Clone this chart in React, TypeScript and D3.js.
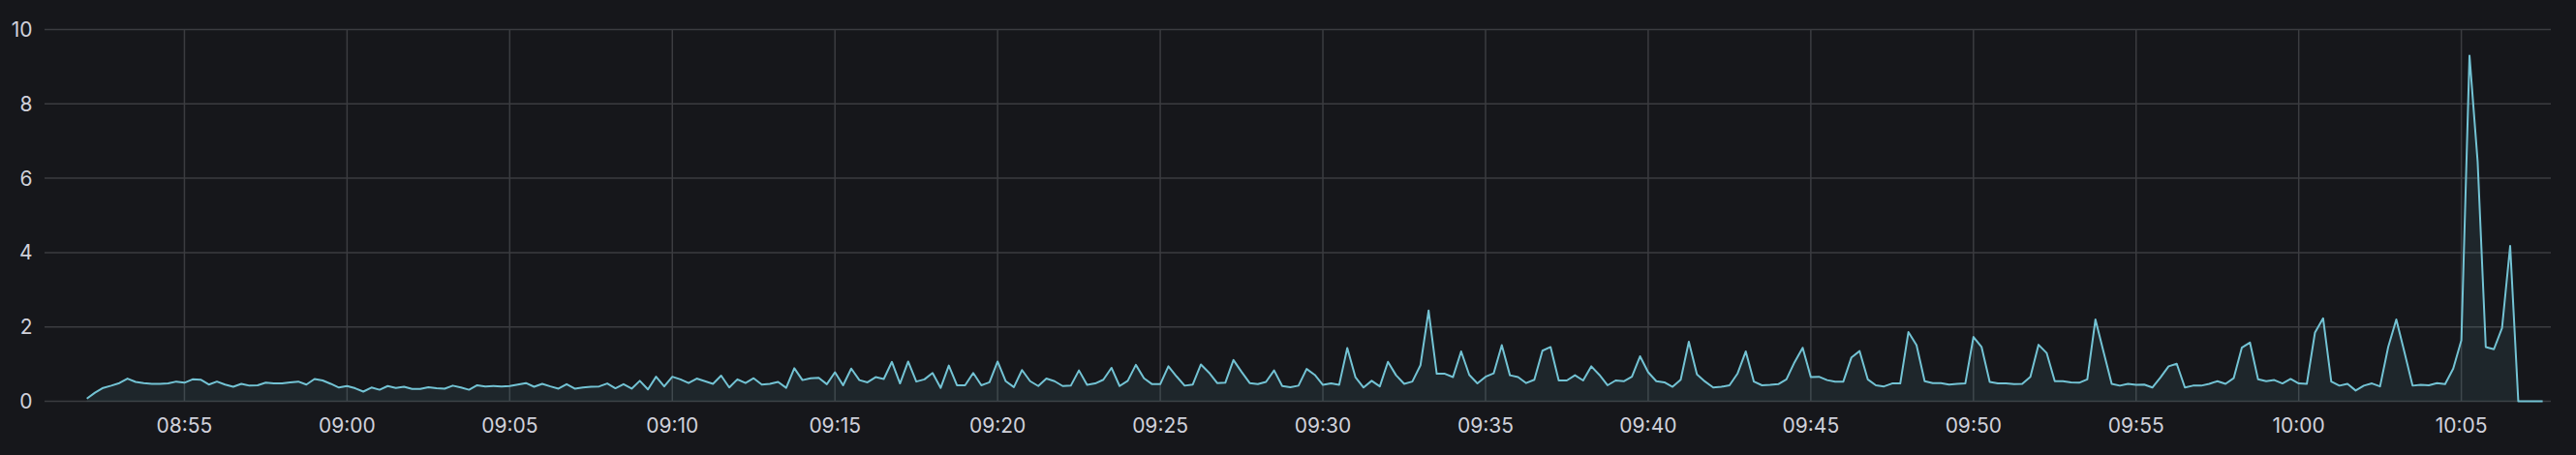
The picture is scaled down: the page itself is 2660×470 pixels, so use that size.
import React from "react";
import * as d3 from "d3";

// ---- data (15 s samples starting 08:52:00) ----
const startTime = "08:52:00";
const stepSeconds = 15;

const values0852 = [
  0.07, 0.23, 0.36, 0.42, 0.49, 0.61, 0.52, 0.49, 0.47, 0.47,
  0.48, 0.53, 0.5, 0.59, 0.58, 0.45, 0.53, 0.45, 0.39, 0.47,
  0.42, 0.43, 0.5, 0.48, 0.48, 0.51, 0.53, 0.45, 0.6, 0.56,
  0.47, 0.37, 0.41, 0.35, 0.26, 0.37, 0.31, 0.41, 0.36, 0.39,
  0.33, 0.33, 0.38,
];
const values0902 = [
  0.35, 0.34, 0.42, 0.37, 0.31, 0.43, 0.4, 0.41, 0.4, 0.41,
  0.45, 0.49, 0.39, 0.47, 0.4, 0.34, 0.46, 0.34, 0.37, 0.39,
  0.4, 0.48, 0.35, 0.46, 0.34, 0.55, 0.32, 0.66, 0.4, 0.66,
  0.59, 0.49, 0.61, 0.54, 0.47, 0.69, 0.37, 0.59, 0.49, 0.62,
  0.45, 0.47, 0.52,
];
const values0913 = [
  0.36, 0.89, 0.57, 0.62, 0.63, 0.46, 0.78, 0.43, 0.88, 0.57,
  0.51, 0.65, 0.6, 1.06, 0.48, 1.07, 0.53, 0.59, 0.76, 0.36,
  0.96, 0.43, 0.43, 0.76, 0.43, 0.51, 1.07, 0.54, 0.38, 0.84,
  0.54, 0.41, 0.61, 0.54, 0.41, 0.42, 0.83, 0.44, 0.48, 0.58,
  0.9, 0.41, 0.55,
];
const values0924 = [
  0.98, 0.62, 0.46, 0.46, 0.94, 0.67, 0.42, 0.45, 0.99, 0.77,
  0.49, 0.5, 1.11, 0.79, 0.49, 0.46, 0.52, 0.83, 0.41, 0.38,
  0.42, 0.87, 0.71, 0.44, 0.48, 0.44, 1.43, 0.65, 0.37, 0.55,
  0.4, 1.06, 0.7, 0.47, 0.53, 0.97, 2.44, 0.74, 0.74, 0.65,
  1.34, 0.71, 0.48,
];
const values0935 = [
  0.66, 0.75, 1.51, 0.7, 0.65, 0.49, 0.58, 1.36, 1.46, 0.56,
  0.56, 0.7, 0.56, 0.94, 0.71, 0.43, 0.56, 0.54, 0.66, 1.21,
  0.78, 0.54, 0.51, 0.39, 0.58, 1.6, 0.72, 0.53, 0.37, 0.39,
  0.43, 0.75, 1.34, 0.53, 0.43, 0.44, 0.46, 0.59, 1.05, 1.44,
  0.65, 0.66, 0.57,
];
const values0945 = [
  0.53, 0.53, 1.18, 1.35, 0.59, 0.43, 0.4, 0.48, 0.48, 1.86,
  1.51, 0.54, 0.49, 0.49, 0.45, 0.47, 0.48, 1.73, 1.46, 0.52,
  0.48, 0.48, 0.46, 0.47, 0.66, 1.52, 1.3, 0.54, 0.54, 0.51,
  0.5, 0.59, 2.2, 1.33, 0.47, 0.42, 0.47, 0.44, 0.45, 0.37,
  0.64, 0.94, 1.01,
];
const values0956 = [
  0.37, 0.42, 0.42, 0.47, 0.54, 0.47, 0.62, 1.44, 1.58, 0.59,
  0.54, 0.57, 0.48, 0.6, 0.48, 0.47, 1.85, 2.23, 0.53, 0.42,
  0.47, 0.29, 0.42, 0.48, 0.4, 1.46, 2.2, 1.32, 0.42, 0.44,
  0.43, 0.49, 0.46, 0.88, 1.64, 9.3, 6.45, 1.46, 1.4, 1.97,
  4.18, 0, 0, 0, 0,
];

const xTickLabels = [
  "08:55", "09:00", "09:05", "09:10", "09:15", "09:20", "09:25", "09:30",
  "09:35", "09:40", "09:45", "09:50", "09:55", "10:00", "10:05",
];
const yTickValues = [0, 2, 4, 6, 8, 10];
const xDomainLabels = ["08:50:42", "10:07:45"];

// ---- layout ----
const W = 2660;
const H = 470;
const plotLeft = 46;
const plotRight = 2634;
const plotTop = 30.5;
const plotBottom = 414.5;

const BG = "#16171b";
const GRID = "#3b3c40";
const TEXT = "#d0d1da";
const LINE = "#73c3d4";
const FONT = "Inter, 'Noto Sans', sans-serif";

const parseHMS = d3.timeParse("%Y-%m-%d %H:%M:%S");
const parseHM = d3.timeParse("%Y-%m-%d %H:%M");
const day = "2024-01-01";

export default function App() {
  const values = [
    ...values0852, ...values0902, ...values0913, ...values0924,
    ...values0935, ...values0945, ...values0956,
  ];
  const t0 = parseHMS(`${day} ${startTime}`) as Date;
  const data = values.map((v, i) => ({
    t: new Date(t0.getTime() + i * stepSeconds * 1000),
    v,
  }));

  const x = d3
    .scaleTime()
    .domain(xDomainLabels.map((s) => parseHMS(`${day} ${s}`) as Date))
    .range([plotLeft, plotRight]);
  const y = d3.scaleLinear().domain([0, 10]).range([plotBottom, plotTop]);

  const line = d3
    .line<{ t: Date; v: number }>()
    .x((d) => x(d.t))
    .y((d) => y(d.v));
  const area = d3
    .area<{ t: Date; v: number }>()
    .x((d) => x(d.t))
    .y0(y(0))
    .y1((d) => y(d.v));

  const xTicks = xTickLabels.map((s) => ({
    label: s,
    t: parseHM(`${day} ${s}`) as Date,
  }));

  return (
    <svg
      width={W}
      height={H}
      style={{ position: "absolute", left: 0, top: 0, background: BG }}
    >
      <rect x={0} y={0} width={W} height={H} fill={BG} />
      {yTickValues.map((v) => (
        <g key={`y${v}`}>
          <line
            x1={plotLeft}
            x2={plotRight}
            y1={y(v)}
            y2={y(v)}
            stroke={GRID}
            strokeWidth={1.5}
          />
          <text
            x={33.5}
            y={y(v)}
            dy="0.36em"
            textAnchor="end"
            fill={TEXT}
            fontFamily={FONT}
            fontSize={21}
          >
            {v}
          </text>
        </g>
      ))}
      {xTicks.map((d) => (
        <g key={d.label}>
          <line
            x1={x(d.t)}
            x2={x(d.t)}
            y1={plotTop}
            y2={plotBottom}
            stroke={GRID}
            strokeWidth={1.5}
          />
          <text
            x={x(d.t)}
            y={446.5}
            textAnchor="middle"
            fill={TEXT}
            fontFamily={FONT}
            fontSize={21}
          >
            {d.label}
          </text>
        </g>
      ))}
      <path d={area(data) ?? ""} fill={LINE} fillOpacity={0.09} />
      <path
        d={line(data) ?? ""}
        fill="none"
        stroke={LINE}
        strokeWidth={2}
        strokeLinejoin="round"
      />
    </svg>
  );
}
